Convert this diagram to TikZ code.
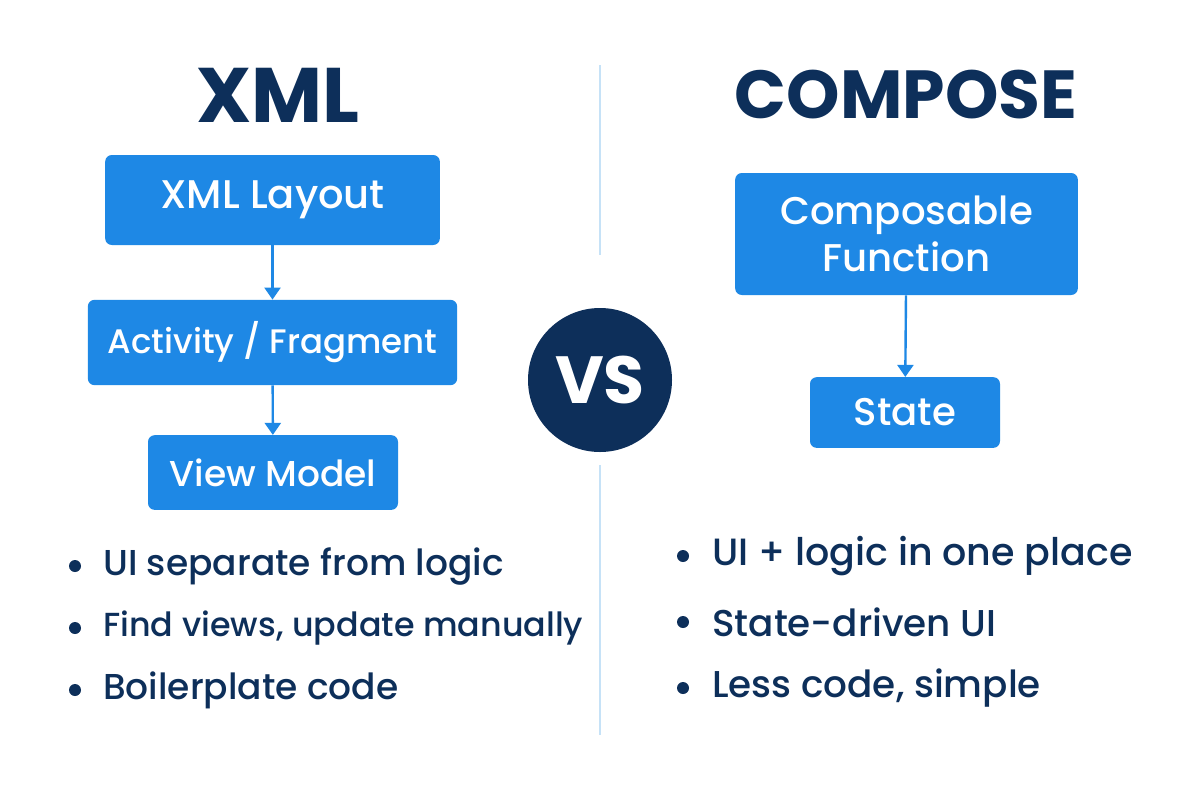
\documentclass[tikz,border=0pt]{standalone}
\usepackage{fontspec}
\setmainfont{Poppins}[UprightFont=* Medium,BoldFont=* Bold]
\usetikzlibrary{arrows.meta}
\definecolor{navy}{HTML}{0D2F5A}
\definecolor{boxblue}{HTML}{1E88E5}
\definecolor{divider}{HTML}{C6E2F7}
\newcommand{\fsz}[1]{\fontsize{#1}{1.2\dimexpr#1pt\relax}\selectfont}
\begin{document}
\begin{tikzpicture}[x=0.75pt,y=-0.75pt,
  box/.style={fill=boxblue,rounded corners=5pt,text=white,font=\fsz{28},align=center,inner sep=0pt},
  arr/.style={draw=boxblue,line width=1.8pt,-{Triangle[length=9pt,width=12pt]}},
  title/.style={text=navy,font=\bfseries},
  bul/.style={text=navy,font=\fsz{27},anchor=west,inner sep=0pt},
  dot/.style={circle,fill=navy,inner sep=0pt,minimum size=9pt}]
\useasboundingbox (0,0) rectangle (1200,800);
\fill[white] (0,0) rectangle (1200,800);
\draw[divider,line width=1.5pt] (600,65) -- (600,255);
\draw[divider,line width=1.5pt] (600,465) -- (600,735);
\node[title,font=\fsz{58}\bfseries] (t1) at (278,95) {XML};
\node[title,font=\fsz{51}\bfseries] (t2) at (906,95) {COMPOSE};
\node[circle,fill=navy,minimum size=108pt,text=white,font=\fsz{50}\bfseries] (vs) at (600,380) {VS};
\node[box,minimum width=251pt,minimum height=67.5pt,font=\fsz{30}] (a) at (272.5,200) {XML Layout};
\node[box,minimum width=277pt,minimum height=64pt,font=\fsz{25.5}] (b) at (272.5,342.5) {Activity / Fragment};
\node[box,minimum width=187.5pt,minimum height=56pt,font=\fsz{27}] (c) at (273,472.5) {View Model};
\node[box,minimum width=257pt,minimum height=91.5pt,font=\fsz{29}] (d) at (906.5,234) {Composable\\Function};
\node[box,minimum width=142.5pt,minimum height=53pt,font=\fsz{29}] (e) at (905,412.5) {State};
\draw[arr] (a) -- (b);
\draw[arr] (b) -- (c);
\draw[arr] (d) -- (e);
\node[dot] (d1) at (75,566) {}; \node[bul] (l1) at (103,566) {UI separate from logic};
\node[dot] (d2) at (75,628) {}; \node[bul,font=\fsz{25}] (l2) at (103,628) {Find views, update manually};
\node[dot] (d3) at (75,690) {}; \node[bul] (l3) at (103,690) {Boilerplate code};
\node[dot] (d4) at (683,556) {}; \node[bul,font=\fsz{28.5}] (r1) at (712,556) {UI + logic in one place};
\node[dot] (d5) at (683,622) {}; \node[bul,font=\fsz{28}] (r2) at (712,622) {State-driven UI};
\node[dot] (d6) at (683,688) {}; \node[bul,font=\fsz{28}] (r3) at (712,688) {Less code, simple};
\end{tikzpicture}
\end{document}
